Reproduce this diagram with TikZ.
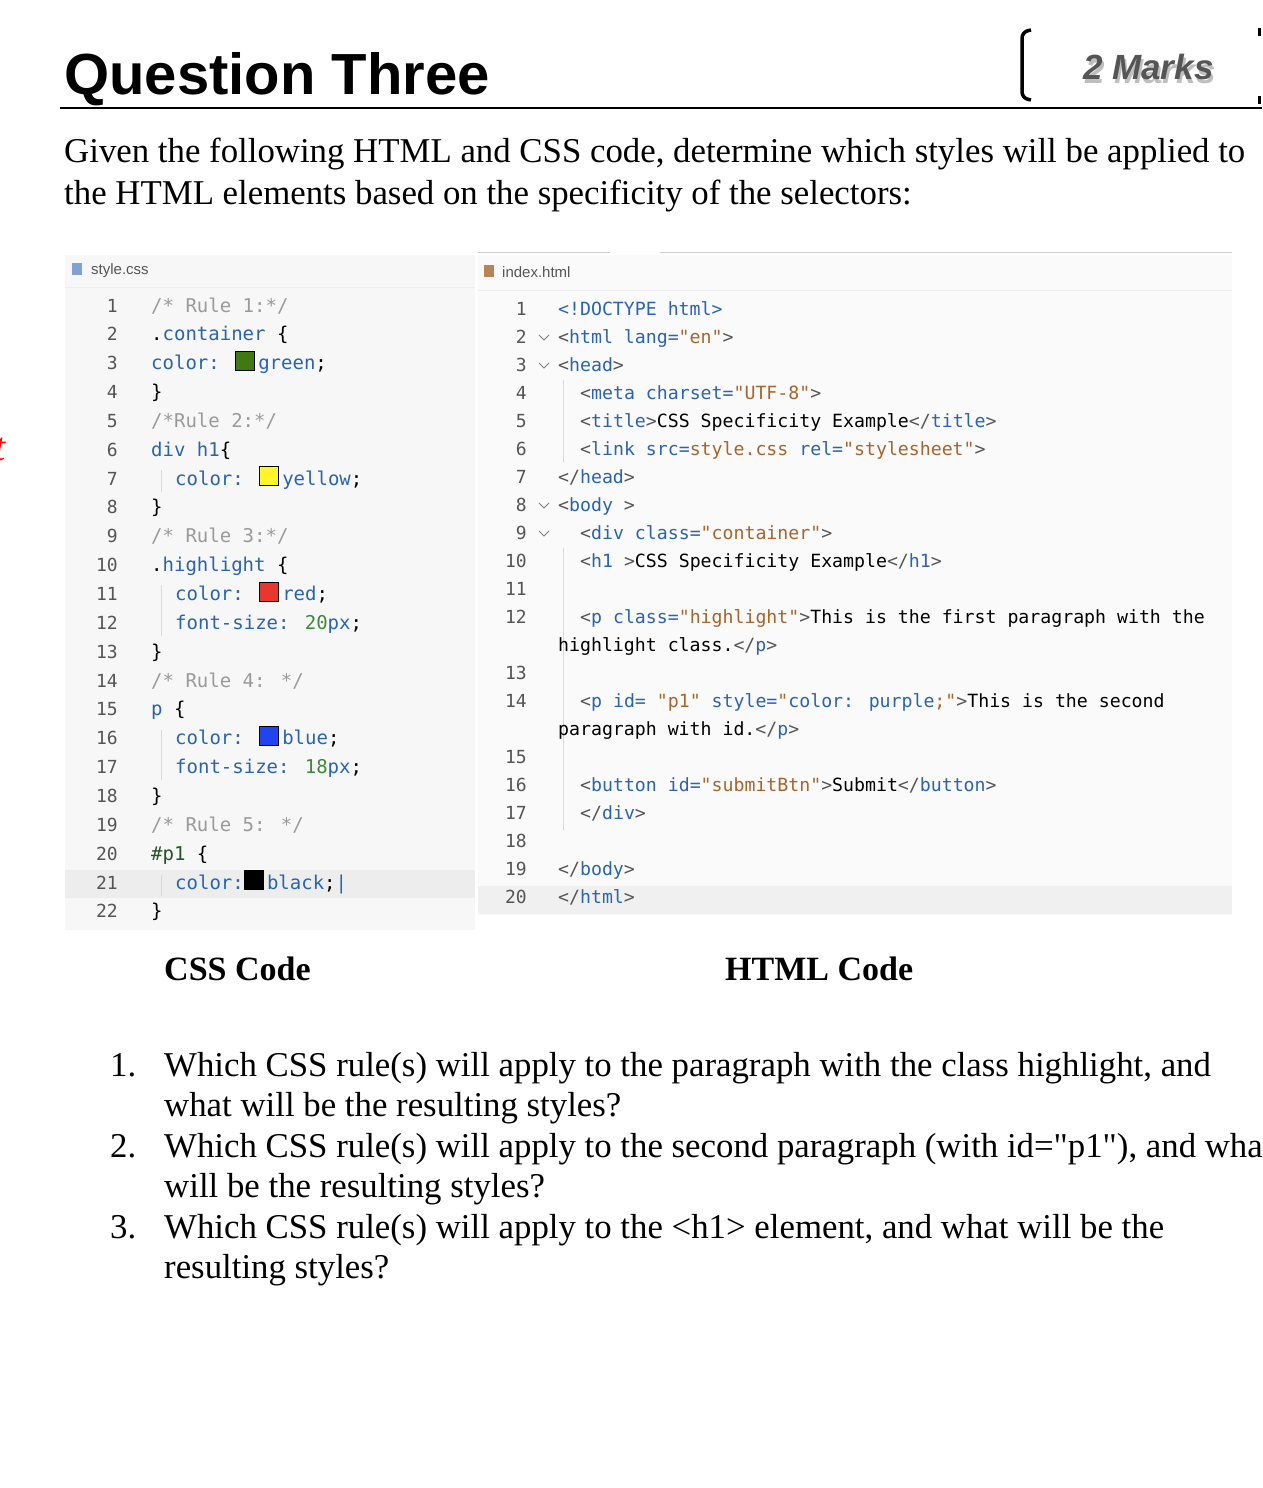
\documentclass[tikz,border=0pt]{standalone}
\usepackage{fontspec}
\setmainfont{Liberation Serif}
\setsansfont{Liberation Sans}
\setmonofont{DejaVu Sans Mono}
\newfontfamily\hmono{DejaVu Sans Mono}
\newfontfamily\qf{Liberation Serif}
\definecolor{cmt}{HTML}{9A9A9A}
\definecolor{kw}{HTML}{2A64B0}
\definecolor{strc}{HTML}{A8642A}
\definecolor{numc}{HTML}{3C8A3C}
\definecolor{gr}{HTML}{555555}
\definecolor{swg}{HTML}{3F7A10}
\definecolor{swy}{HTML}{FFF52A}
\definecolor{swr}{HTML}{E8382E}
\definecolor{swb}{HTML}{1F44F0}
\newcommand\K[1]{\textcolor{kw}{#1}}
\newcommand\C[1]{\textcolor{cmt}{#1}}
\newcommand\Sx[1]{\textcolor{strc}{#1}}
\newcommand\N[1]{\textcolor{numc}{#1}}
\newcommand\G[1]{\textcolor{gr}{#1}}
\newcommand\sw[1]{{\fboxsep=0pt\fboxrule=1pt\fcolorbox{black}{#1}{\rule{0pt}{18pt}\rule{18pt}{0pt}}}}
\begin{document}
\begin{tikzpicture}[x=1pt,y=-1pt,
  css/.style={inner sep=0pt,anchor=base west,font=\fontsize{19}{19}\ttfamily},
  cssn/.style={inner sep=0pt,anchor=base east,font=\fontsize{18}{18}\ttfamily,text=gr},
  htm/.style={inner sep=0pt,anchor=base west,font=\fontsize{18.2}{18.2}\hmono},
  htn/.style={inner sep=0pt,anchor=base east,font=\fontsize{18}{18}\hmono,text=gr},
  body/.style={inner sep=0pt,anchor=base west,font=\fontsize{34.8}{34.8}\selectfont},
  chev/.style={draw=gray,line width=0.8pt}]
\useasboundingbox (0,0) rectangle (1262,1488);
% header
\node[inner sep=0pt,anchor=base west,font=\fontsize{58}{58}\sffamily\bfseries] (title) at (64,95) {Question Three};
\draw[line width=2pt] (60,108) -- (1262,108);
\draw[line width=3.5pt,rounded corners=6pt] (1031,30) -- (1022,32) -- (1022,98) -- (1031,100);
\draw[line width=3pt] (1259,28) -- (1259,36) (1259,96) -- (1259,104);
\node[inner sep=0pt,anchor=base west,font=\fontsize{35}{35}\sffamily\bfseries\itshape,text=black!25] (mkshadow) at (1085,83) {2 Marks};
\node[inner sep=0pt,anchor=base west,font=\fontsize{35}{35}\sffamily\bfseries\itshape,text=gr] (marks) at (1083,80) {2 Marks};
\node[inner sep=0pt,anchor=base west,font=\fontsize{40}{40}\itshape,text=red] (redt) at (-6,460) {t};
% intro
\node[body] (p1) at (64,162) {Given the following HTML and CSS code, determine which styles will be applied to};
\node[body] (p2) at (64,204) {the HTML elements based on the specificity of the selectors:};
% CSS panel
\fill[black!3] (65,255) rectangle (475,930);
\draw[black!7] (65,287) -- (475,287);
\fill[black!7] (65,870) rectangle (475,898);
\fill[kw!60] (72,263) rectangle (82,275);
\node[inner sep=0pt,anchor=base west,font=\fontsize{15}{15}\sffamily,text=gr] (csstab) at (91,274) {style.css};
\foreach \i in {1,...,22} {
  \pgfmathsetmacro\yy{312+28.85*(\i-1)}
  \node[cssn] (cn\i) at (118,\yy) {\i};
}
\draw[black!15] (161,470) -- (161,492);
\draw[black!15] (161,585) -- (161,636);
\draw[black!15] (161,730) -- (161,780);
\draw[black!15] (161,875) -- (161,896);
\node[css] (c1) at (151,312) {\C{/* Rule 1:*/}};
\node[css] (c2) at (151,340.85) {.\K{container} \{};
\node[css] (c3) at (151,369.7) {\K{color:} \sw{swg}\,\K{green};};
\node[css] (c4) at (151,398.55) {\}};
\node[css] (c5) at (151,427.4) {\C{/*Rule 2:*/}};
\node[css] (c6) at (151,456.25) {\K{div h1}\{};
\node[css] (c7) at (175,485.1) {\K{color:} \sw{swy}\,\K{yellow};};
\node[css] (c8) at (151,513.95) {\}};
\node[css] (c9) at (151,542.8) {\C{/* Rule 3:*/}};
\node[css] (c10) at (151,571.65) {.\K{highlight} \{};
\node[css] (c11) at (175,600.5) {\K{color:} \sw{swr}\,\K{red};};
\node[css] (c12) at (175,629.35) {\K{font-size:} \N{20}\K{px};};
\node[css] (c13) at (151,658.2) {\}};
\node[css] (c14) at (151,687.05) {\C{/* Rule 4:  */}};
\node[css] (c15) at (151,715.9) {\K{p} \{};
\node[css] (c16) at (175,744.75) {\K{color:} \sw{swb}\,\K{blue};};
\node[css] (c17) at (175,773.6) {\K{font-size:} \N{18}\K{px};};
\node[css] (c18) at (151,802.45) {\}};
\node[css] (c19) at (151,831.3) {\C{/* Rule 5:  */}};
\node[css] (c20) at (151,860.15) {\textcolor{numc!60!black}{\#p1} \{};
\node[css] (c21) at (175,889) {\K{color:}\sw{black}\,\K{black};\textcolor{kw}{|}};
\node[css] (c22) at (151,917.85) {\}};
% HTML panel
\fill[black!2] (478,255) rectangle (1232,915);
\draw[black!20] (478,252) -- (610,252) (660,252) -- (1232,252);
\draw[black!7] (478,290) -- (1232,290);
\fill[black!6] (478,886) rectangle (1232,914);
\fill[strc!80] (484,265) rectangle (494,277);
\node[inner sep=0pt,anchor=base west,font=\fontsize{15}{15}\sffamily,text=gr] (htab) at (502,277) {index.html};
\foreach \n/\r in {1/1,2/2,3/3,4/4,5/5,6/6,7/7,8/8,9/9,10/10,11/11,12/12,13/14,14/15,15/17,16/18,17/19,18/20,19/21,20/22} {
  \pgfmathsetmacro\yy{315+28*(\r-1)}
  \node[htn] (hn\n) at (527,\yy) {\n};
}
\foreach \r in {2,3,8,9} {
  \pgfmathsetmacro\yy{309+28*(\r-1)}
  \draw[chev] (539,\yy-2) -- (544,\yy+3) -- (549,\yy-2);
}
\draw[black!15] (563,380) -- (563,462);
\draw[black!15] (563,548) -- (563,830);
\node[htm] (h1) at (558,315) {\K{<!DOCTYPE html>}};
\node[htm] (h2) at (558,343) {\G{<}\K{html lang=}\Sx{"en"}\G{>}};
\node[htm] (h3) at (558,371) {\G{<}\K{head}\G{>}};
\node[htm] (h4) at (580,399) {\G{<}\K{meta charset=}\Sx{"UTF-8"}\G{>}};
\node[htm] (h5) at (580,427) {\G{<}\K{title}\G{>}CSS Specificity Example\G{</}\K{title}\G{>}};
\node[htm] (h6) at (580,455) {\G{<}\K{link src=}\Sx{style.css} \K{rel=}\Sx{"stylesheet"}\G{>}};
\node[htm] (h7) at (558,483) {\G{</}\K{head}\G{>}};
\node[htm] (h8) at (558,511) {\G{<}\K{body} \G{>}};
\node[htm] (h9) at (580,539) {\G{<}\K{div class=}\Sx{"container"}\G{>}};
\node[htm] (h10) at (580,567) {\G{<}\K{h1} \G{>}CSS Specificity Example\G{</}\K{h1}\G{>}};
\node[htm] (h12) at (580,623) {\G{<}\K{p class=}\Sx{"highlight"}\G{>}This is the first paragraph with the};
\node[htm] (h12b) at (558,651) {highlight class.\G{</}\K{p}\G{>}};
\node[htm] (h14) at (580,707) {\G{<}\K{p id=} \Sx{"p1"} \K{style=}\Sx{"}\K{color:} \K{purple}\Sx{;"}\G{>}This is the second};
\node[htm] (h14b) at (558,735) {paragraph with id.\G{</}\K{p}\G{>}};
\node[htm] (h16) at (580,791) {\G{<}\K{button id=}\Sx{"submitBtn"}\G{>}Submit\G{</}\K{button}\G{>}};
\node[htm] (h17) at (580,819) {\G{</}\K{div}\G{>}};
\node[htm] (h19) at (558,875) {\G{</}\K{body}\G{>}};
\node[htm] (h20) at (558,903) {\G{</}\K{html}\G{>}};
% captions
\node[body,font=\fontsize{34}{34}\bfseries] (capc) at (164,980) {CSS Code};
\node[body,font=\fontsize{34}{34}\bfseries] (caph) at (725,980) {HTML Code};
% questions
\node[body] (q1n) at (110,1076) {1.};
\node[body] (q1a) at (164,1076) {Which CSS rule(s) will apply to the paragraph with the class highlight, and};
\node[body] (q1b) at (164,1116) {what will be the resulting styles?};
\node[body] (q2n) at (110,1157) {2.};
\node[body] (q2a) at (164,1157) {Which CSS rule(s) will apply to the second paragraph (with id={\qf"}p1{\qf"}), and what};
\node[body] (q2b) at (164,1197) {will be the resulting styles?};
\node[body] (q3n) at (110,1238) {3.};
\node[body] (q3a) at (164,1238) {Which CSS rule(s) will apply to the <h1> element, and what will be the};
\node[body] (q3b) at (164,1278) {resulting styles?};
\end{tikzpicture}
\end{document}
